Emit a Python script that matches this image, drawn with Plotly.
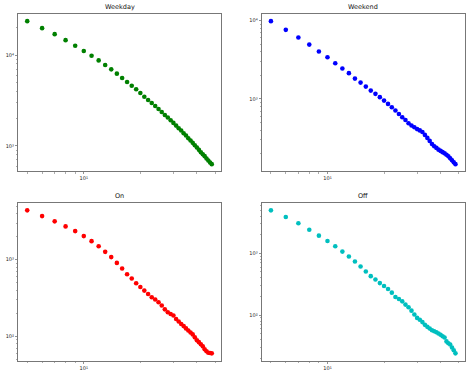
import numpy as np
import plotly.graph_objects as go

# ---- data ----
ranks = list(range(5, 49))

weekday = [23640, 19800, 17010, 14610, 12660, 11070, 9830, 8740, 7770, 6960,
           6240, 5590, 5050, 4600, 4200, 3820, 3480, 3200, 2970, 2750,
           2550, 2360, 2190, 2050, 1915, 1790, 1673, 1564, 1474, 1378,
           1299, 1214, 1144, 1079, 1017, 959, 904, 852, 810, 770,
           726, 690, 656, 629]

weekend = [9820, 7600, 6070, 4930, 4020, 3400, 2850, 2440, 2130, 1815,
           1615, 1436, 1276, 1159, 1052, 951, 863, 783, 710, 643,
           583, 539, 489, 458, 435, 412, 396, 378, 347, 318,
           291, 266, 249, 237, 225, 217, 209, 202, 194, 185,
           175, 165, 155, 147]

on = [4400, 3700, 3160, 2715, 2360, 2030, 1745, 1500, 1265, 1080,
      908, 767, 646, 568, 493, 441, 395, 357, 324, 302,
      278, 252, 225, 206, 196, 187, 168, 156, 145, 136,
      127, 119, 112, 106, 97, 89, 84, 79, 74, 68,
      64, 61, 60.5, 60]

off = [4980, 3880, 3070, 2420, 1937, 1591, 1306, 1069, 888, 738,
       613, 508, 428, 378, 330, 296, 265, 231, 196, 182,
       167, 148, 134, 118, 102, 90, 84, 77, 69.5, 64.5,
       60.6, 56.9, 54.8, 52.8, 50.3, 48, 45.5, 43.4, 37.5, 35,
       33.4, 29.9, 27, 24]

titles = ["Weekday", "Weekend", "On", "Off"]
series = [weekday, weekend, on, off]
colors = ["#008000", "#0000ff", "#ff0000", "#00bfbf"]

W, H = 474, 374
xdom = [[18 / W, 221 / W], [261.7 / W, 464.7 / W]]
ydom = [[(H - 171.3) / H, (H - 14) / H], [(H - 360.5) / H, (H - 203.2) / H]]

FONT = "DejaVu Sans"
AX_COLOR = "#777777"


def log_range(vals, pad=0.05):
    lo, hi = np.log10(min(vals)), np.log10(max(vals))
    d = (hi - lo) * pad
    return [lo - d, hi + d]


def log_ticks(rng):
    lo, hi = rng
    major, minor = [], []
    for e in range(int(np.floor(lo)) - 1, int(np.ceil(hi)) + 1):
        for m in range(1, 10):
            v = m * 10.0 ** e
            lv = np.log10(v)
            if lo <= lv <= hi:
                (major if m == 1 else minor).append(v)
    return major, minor


sup = str.maketrans("0123456789-", "⁰¹²³⁴⁵⁶⁷⁸⁹⁻")

fig = go.Figure()
annotations = []
for i, (t, ys, c) in enumerate(zip(titles, series, colors)):
    r, col = divmod(i, 2)
    n = i + 1
    xa = "x" if n == 1 else f"x{n}"
    ya = "y" if n == 1 else f"y{n}"
    fig.add_trace(go.Scatter(x=ranks, y=ys, mode="markers",
                             marker=dict(color=c, size=4.6, line=dict(width=0)),
                             xaxis=xa, yaxis=ya, showlegend=False))
    xr = log_range(ranks)
    yr = log_range(ys)
    xmaj, xmin = log_ticks(xr)
    ymaj, ymin = log_ticks(yr)
    common = dict(type="log", showgrid=False, zeroline=False, showline=True,
                  linecolor=AX_COLOR, linewidth=1, mirror=True,
                  ticks="outside", ticklen=2, tickwidth=0.8, tickcolor=AX_COLOR,
                  tickfont=dict(family=FONT, size=5, color="#222222"),
                  tickmode="array", automargin=False)
    xkey = "xaxis" if n == 1 else f"xaxis{n}"
    ykey = "yaxis" if n == 1 else f"yaxis{n}"
    fig.layout[xkey] = dict(common, domain=xdom[col], anchor=ya, range=xr,
                            tickvals=xmaj,
                            ticktext=["10" + str(int(round(np.log10(v)))).translate(sup) for v in xmaj],
                            minor=dict(tickmode="array", tickvals=xmin, ticks="outside",
                                       ticklen=1.2, tickwidth=0.6, tickcolor=AX_COLOR))
    fig.layout[ykey] = dict(common, domain=ydom[r], anchor=xa, range=yr,
                            tickvals=ymaj,
                            ticktext=["10" + str(int(round(np.log10(v)))).translate(sup) for v in ymaj],
                            minor=dict(tickmode="array", tickvals=ymin, ticks="outside",
                                       ticklen=1.2, tickwidth=0.6, tickcolor=AX_COLOR))
    annotations.append(dict(text=t, xref="paper", yref="paper",
                            x=sum(xdom[col]) / 2, y=ydom[r][1],
                            xanchor="center", yanchor="bottom", yshift=1,
                            showarrow=False,
                            font=dict(family=FONT, size=6.5, color="#111111")))

fig.update_layout(width=W, height=H, margin=dict(l=0, r=0, t=0, b=0),
                  paper_bgcolor="white", plot_bgcolor="white",
                  annotations=annotations, hovermode=False)

fig.write_html("out.html",
               config={"displayModeBar": False, "staticPlot": True},
               post_script="document.body.style.margin='0';document.body.style.overflow='hidden';")
